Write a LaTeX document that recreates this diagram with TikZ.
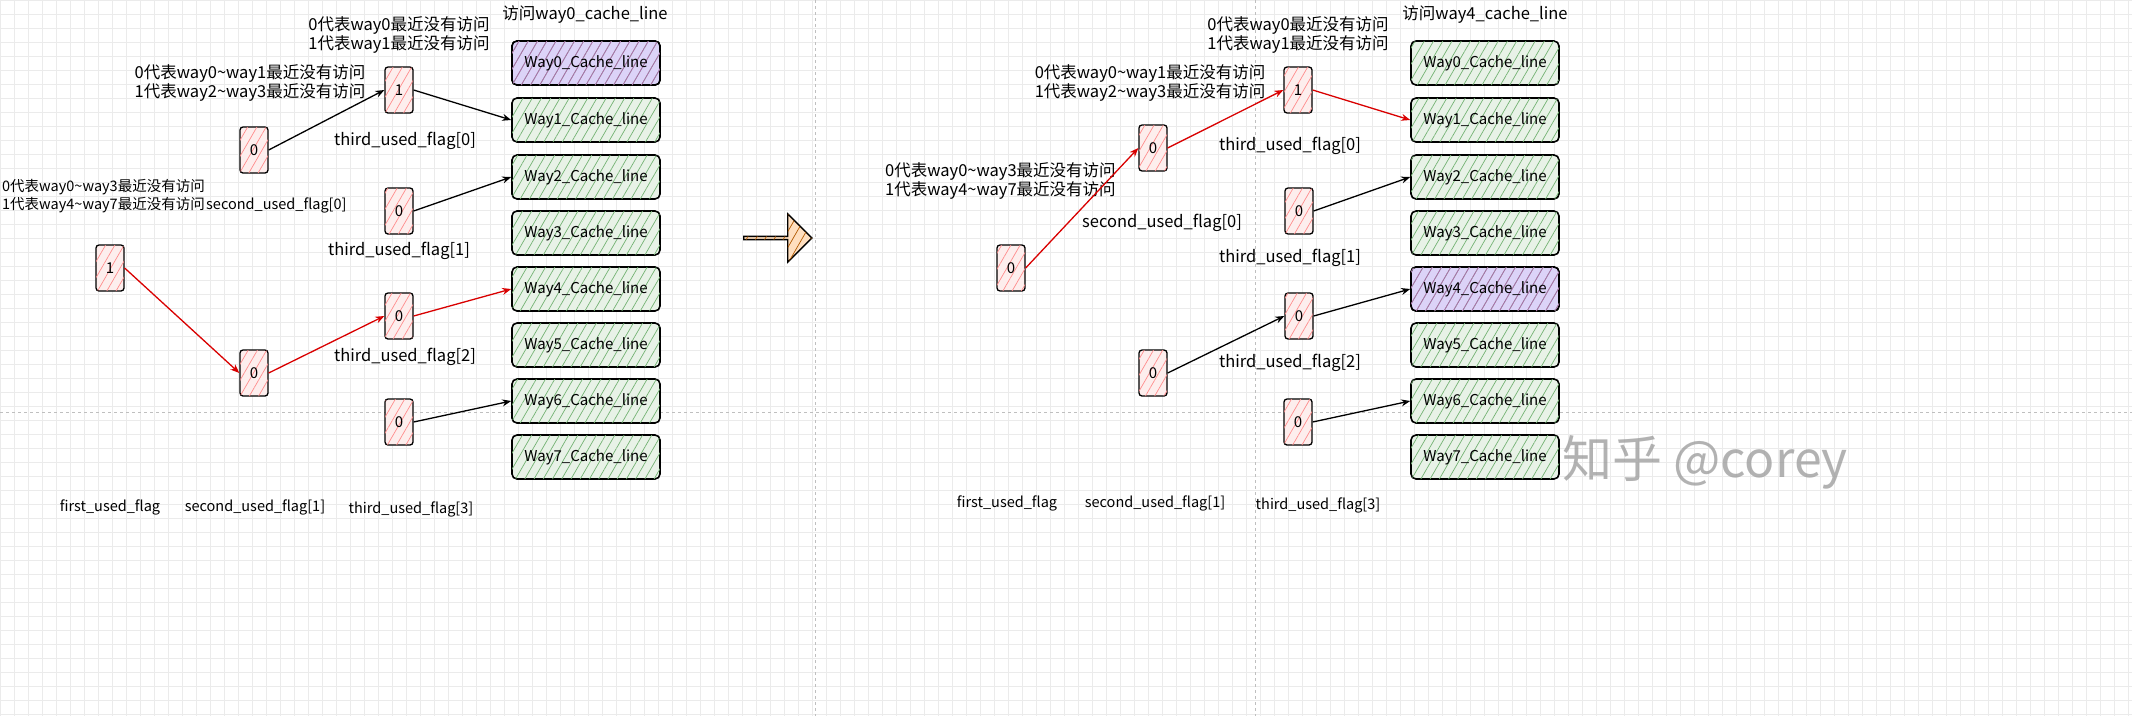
\documentclass[tikz,border=0pt]{standalone}
\usepackage{fontspec}
\setmainfont{Noto Sans CJK SC}
\usetikzlibrary{patterns.meta,shapes.arrows,arrows.meta}
\definecolor{flagfill}{HTML}{F8CECC}
\definecolor{greenfill}{HTML}{D5E8D4}
\definecolor{purplefill}{HTML}{B9A8F0}
\tikzset{
 hatch/.style={postaction={pattern={Lines[angle=60,distance=8pt,line width=0.7pt]},pattern color=#1}},
 flag/.style={draw=black,line width=1.3pt,rounded corners=3pt,minimum width=28pt,minimum height=46pt,fill=flagfill!35,hatch=red!45,font=\fontsize{15}{17}\selectfont},
 cline/.style={draw=black,line width=1.6pt,rounded corners=5pt,minimum width=148pt,minimum height=44pt,fill=greenfill!55,hatch=green!45!black!55,font=\fontsize{15}{17}\selectfont},
 hot/.style={fill=purplefill!50,hatch=violet!60},
 lbl/.style={font=\fontsize{16.5}{19}\selectfont,inner sep=0pt,align=left},
 small/.style={font=\fontsize{14.5}{18}\selectfont},
 blk/.style={-{Stealth[open,length=9pt,width=7pt]},line width=1.3pt,black},
 redar/.style={-{Stealth[open,length=9pt,width=7pt]},line width=1.3pt,red!85!black},
}
\begin{document}
\begin{tikzpicture}[x=1pt,y=-1pt]
\useasboundingbox (0,0) rectangle (2132,716);
\fill[white] (0,0) rectangle (2132,716);
\draw[black!8,step=14pt] (0,0) grid (2132,716);
\draw[black!25,dashed] (815,0) -- (815,716) (0,412) -- (2132,412) (1255,0) -- (1255,716);
% ---------- left panel ----------
\node[flag] (L1) at (110,268) {1};
\node[flag] (S0) at (254,150) {0};
\node[flag] (S1) at (254,373) {0};
\node[flag] (T0) at (399,90) {1};
\node[flag] (T1) at (399,211) {0};
\node[flag] (T2) at (399,316) {0};
\node[flag] (T3) at (399,422) {0};
\foreach \i/\y in {0/63,1/120,2/177,3/233,4/289,5/345,6/401,7/457}
  \node[cline] (W\i) at (586,\y) {Way\i\_Cache\_line};
\node[cline,hot] at (W0) {Way0\_Cache\_line};
\node[lbl] (t1) at (585,15) {访问way0\_cache\_line};
\node[lbl] (t2) at (399,35) {0代表way0最近没有访问\\1代表way1最近没有访问};
\node[lbl] (t3) at (250,83) {0代表way0\textasciitilde way1最近没有访问\\1代表way2\textasciitilde way3最近没有访问};
\node[lbl,small,anchor=west] (t4) at (2,196) {0代表way0\textasciitilde way3最近没有访问\\1代表way4\textasciitilde way7最近没有访问};
\node[lbl,small,anchor=west] (t5) at (206,205) {second\_used\_flag[0]};
\node[lbl] (t6) at (405,141) {third\_used\_flag[0]};
\node[lbl] (t7) at (399,251) {third\_used\_flag[1]};
\node[lbl] (t8) at (405,357) {third\_used\_flag[2]};
\node[lbl,small] (t9) at (110,507) {first\_used\_flag};
\node[lbl,small] (t10) at (255,507) {second\_used\_flag[1]};
\node[lbl,small] (t11) at (411,509) {third\_used\_flag[3]};
\draw[redar] (L1.east) -- (S1.west);
\draw[redar] (S1.east) -- (T2.west);
\draw[redar] (T2.east) -- (W4.west);
\draw[blk] (S0.east) -- (T0.west);
\draw[blk] (T0.east) -- (W1.west);
\draw[blk] (T1.east) -- (W2.west);
\draw[blk] (T3.east) -- (W6.west);
% ---------- middle arrow ----------
\node[single arrow,draw=black,line width=1.4pt,fill=orange!25,hatch=orange!70!black,minimum height=68pt,minimum width=48pt,single arrow head extend=10pt,single arrow head indent=0pt,inner sep=0pt] (ar) at (777,238) {};
% ---------- right panel ----------
\node[flag] (RL1) at (1011,268) {0};
\node[flag] (RS0) at (1153,148) {0};
\node[flag] (RS1) at (1153,373) {0};
\node[flag] (RT0) at (1298,90) {1};
\node[flag] (RT1) at (1299,211) {0};
\node[flag] (RT2) at (1299,316) {0};
\node[flag] (RT3) at (1298,422) {0};
\foreach \i/\y in {0/63,1/120,2/177,3/233,4/289,5/345,6/401,7/457}
  \node[cline] (RW\i) at (1485,\y) {Way\i\_Cache\_line};
\node[cline,hot] at (RW4) {Way4\_Cache\_line};
\node[lbl] (r1) at (1485,15) {访问way4\_cache\_line};
\node[lbl] (r2) at (1298,35) {0代表way0最近没有访问\\1代表way1最近没有访问};
\node[lbl] (r3) at (1150,83) {0代表way0\textasciitilde way1最近没有访问\\1代表way2\textasciitilde way3最近没有访问};
\node[lbl,anchor=west] (r4) at (885,181) {0代表way0\textasciitilde way3最近没有访问\\1代表way4\textasciitilde way7最近没有访问};
\node[lbl] (r5) at (1162,223) {second\_used\_flag[0]};
\node[lbl] (r6) at (1290,146) {third\_used\_flag[0]};
\node[lbl] (r7) at (1290,258) {third\_used\_flag[1]};
\node[lbl] (r8) at (1290,363) {third\_used\_flag[2]};
\node[lbl,small] (r9) at (1007,503) {first\_used\_flag};
\node[lbl,small] (r10) at (1155,503) {second\_used\_flag[1]};
\node[lbl,small] (r11) at (1318,505) {third\_used\_flag[3]};
\draw[redar] (RL1.east) -- (RS0.west);
\draw[redar] (RS0.east) -- (RT0.west);
\draw[redar] (RT0.east) -- (RW1.west);
\draw[blk] (RS1.east) -- (RT2.west);
\draw[blk] (RT2.east) -- (RW4.west);
\draw[blk] (RT1.east) -- (RW2.west);
\draw[blk] (RT3.east) -- (RW6.west);
% watermark
\node[font=\fontsize{50}{54}\selectfont,text=black!40,opacity=0.75] (wm) at (1705,462) {知乎 @corey};
\end{tikzpicture}
\end{document}
